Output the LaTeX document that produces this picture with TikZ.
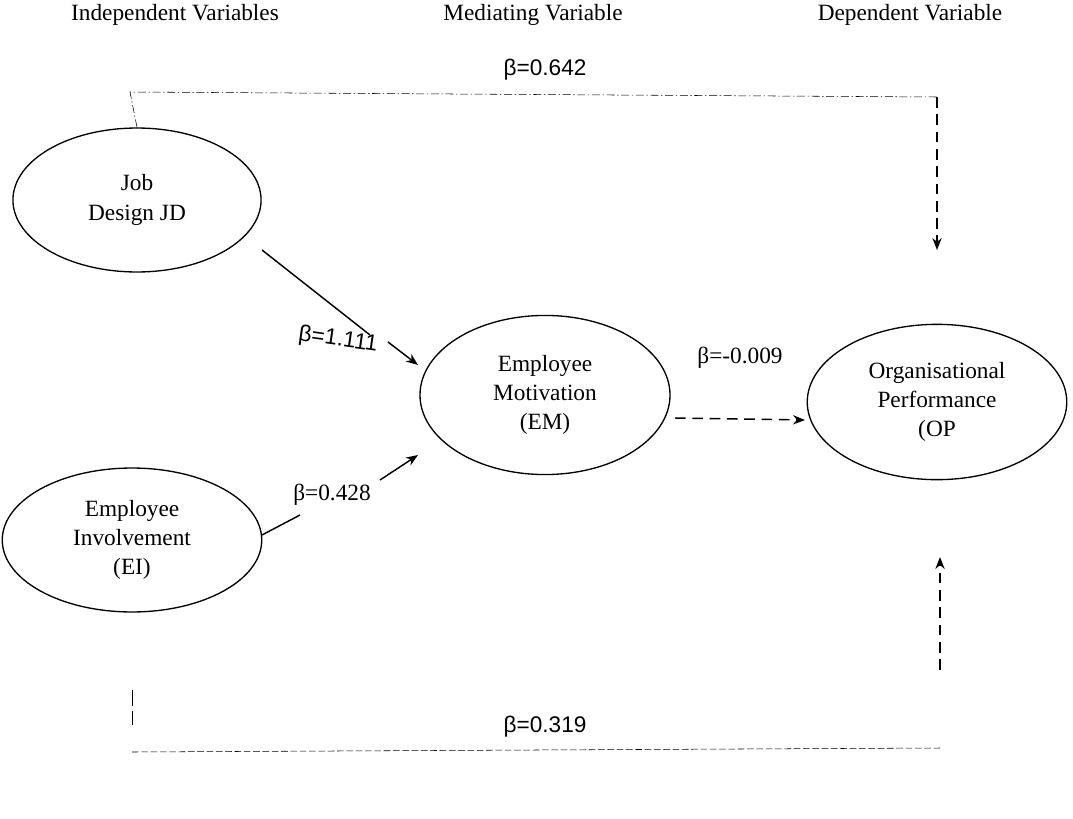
\documentclass[tikz,border=0pt]{standalone}
\usepackage{fontspec}
\setmainfont{Liberation Serif}
\newfontfamily\sansf{Liberation Sans}
\usetikzlibrary{arrows.meta,shapes.geometric}
\begin{document}
\begin{tikzpicture}[x=0.0264cm,y=-0.0264cm,
  ell/.style={draw,line width=1pt,ellipse,inner sep=0pt,align=center,font=\fontsize{17.5}{22}\selectfont},
  hd/.style={font=\fontsize{17.5}{21}\selectfont},
  lbl/.style={font=\fontsize{17.5}{21}\selectfont},
  slbl/.style={font=\sansf\fontsize{17}{21}\selectfont},
  conn/.style={line width=1.1pt},
  dsh/.style={dash pattern=on 8pt off 5pt},
  tip/.style={-{Stealth[length=9pt,width=7pt]}}]
\useasboundingbox (0,0) rectangle (1073,818);
\node[hd] at (175,15) {Independent Variables};
\node[hd] at (533,15) {Mediating Variable};
\node[hd] at (910,15) {Dependent Variable};
\node[ell,minimum width=6.55cm,minimum height=3.8cm] (jd) at (137,200) {Job\\Design JD};
\node[ell,minimum width=6.85cm,minimum height=3.8cm] (ei) at (132,540) {Employee\\Involvement\\(EI)};
\node[ell,minimum width=6.6cm,minimum height=4.2cm] (em) at (545,395) {Employee\\Motivation\\(EM)};
\node[ell,minimum width=6.85cm,minimum height=4.1cm] (op) at (937,402) {Organisational\\Performance\\(OP};
% top path
\coordinate (t1) at (130,92); \coordinate (t2) at (937,97); \coordinate (t3) at (937,250);
\draw[dash pattern=on 6pt off 2pt on 1pt off 2pt] (jd.north) -- (t1) -- (t2);
\draw[conn,dsh,tip] (t2) -- (t3);
\node[slbl] at (545,70) {β=0.642};
% JD -> EM
\coordinate (a1) at (262,250); \coordinate (a2) at (370,335); \coordinate (a3) at (388,342);
\coordinate (a4) at (418,365);
\draw[conn] (a1) -- (a2);
\draw[conn,tip] (a3) -- (a4);
\node[slbl,rotate=-8] at (338,340) {β=1.111};
% EI -> EM
\coordinate (b1) at (262,535); \coordinate (b2) at (300,515); \coordinate (b3) at (380,480);
\coordinate (b4) at (418,455);
\draw[conn] (b1) -- (b2);
\draw[conn,tip] (b3) -- (b4);
\node[lbl] at (332,495) {β=0.428};
% EM -> OP
\coordinate (m1) at (675,418); \coordinate (m2) at (805,420);
\draw[conn,dsh,tip] (m1) -- (m2);
\node[lbl] at (740,358) {β=-0.009};
% bottom path
\coordinate (c0) at (132,690); \coordinate (c1) at (132,725);
\coordinate (c2) at (132,752); \coordinate (c3) at (940,748);
\coordinate (c4) at (940,670); \coordinate (c5) at (940,557);
\draw[dash pattern=on 12pt off 4pt] (c0) -- (c1);
\draw[dash pattern=on 5pt off 2pt] (c2) -- (c3);
\draw[conn,dsh,tip] (c4) -- (c5);
\node[slbl] at (545,727) {β=0.319};
\end{tikzpicture}
\end{document}
